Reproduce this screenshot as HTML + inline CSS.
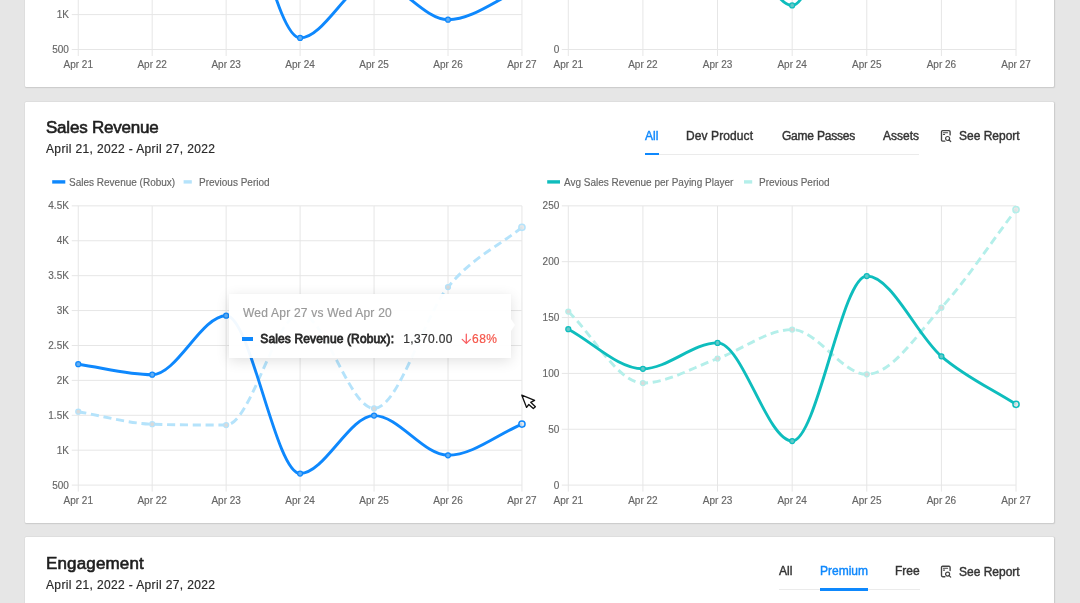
<!DOCTYPE html>
<html><head><meta charset="utf-8">
<style>
html,body{margin:0;padding:0;}
body{width:1080px;height:603px;overflow:hidden;background:#e6e6e6;position:relative;font-family:"Liberation Sans",sans-serif;}
.card{position:absolute;left:25px;width:1029.3px;height:421.0px;background:#fff;box-shadow:0 0 1.6px rgba(0,0,0,0.09), 0.7px 0.9px 1.3px rgba(0,0,0,0.11);border-radius:1.2px;}
.title{position:absolute;font-size:17px;font-weight:normal;color:#1e1e1e;-webkit-text-stroke:0.6px #1e1e1e;letter-spacing:-0.55px;white-space:nowrap;line-height:20px;}
.date{position:absolute;font-size:12px;color:#2a2a2a;-webkit-text-stroke:0.2px #2a2a2a;letter-spacing:0.36px;white-space:nowrap;line-height:14px;}
.tab{position:absolute;font-size:12px;color:#333;white-space:nowrap;line-height:14px;-webkit-text-stroke:0.4px #333;}
.tab.act{color:#0e88fd;-webkit-text-stroke:0.4px #0e88fd;}
.leg{position:absolute;font-size:10px;color:#666;-webkit-text-stroke:0.15px #666;white-space:nowrap;line-height:12px;}
.title,.date,.tab,.leg,#tip,svg.main{will-change:transform;}
svg text.ax{font-family:"Liberation Sans",sans-serif;font-size:10px;fill:#666;stroke:#666;stroke-width:0.15px;}
#tip{position:absolute;left:229.4px;top:294.0px;width:281.85px;height:64.2px;background:rgba(255,255,255,0.95);box-shadow:0 3px 14px rgba(0,0,0,0.12), 0 0 2px rgba(0,0,0,0.04);border-radius:1px;}
#tip div{position:absolute;white-space:nowrap;line-height:14px;font-size:12px;-webkit-text-stroke:0.2px currentColor;}
.tt-title{left:14.0px;top:12.4px;color:#999;letter-spacing:0.22px;}
.tt-sw{left:13.2px;top:43.2px;width:10.7px;height:3.6px;background:#0e88fd;}
.tt-name{left:31.3px;top:38.4px;color:#2a2a2a;letter-spacing:0.14px;-webkit-text-stroke:0.8px #2a2a2a !important;}
.tt-val{left:174.3px;top:38.4px;color:#333;letter-spacing:0.33px;}
.tt-pct{left:243.0px;top:38.4px;color:#f5564a;letter-spacing:0.5px;}
.tt-arrow{left:281.85px;top:25.3px;width:0;height:0;border-top:6.6px solid transparent;border-bottom:6.6px solid transparent;border-left:4.6px solid rgba(255,255,255,0.97);}
</style></head><body>
<div class="card" style="top:-334.10px"></div>
<div class="card" style="top:101.50px"></div>
<div class="card" style="top:537.10px"></div>
<svg class="main" style="position:absolute;left:0;top:0" width="1080" height="603">
<line x1="71.75" y1="-229.75" x2="521.95" y2="-229.75" stroke="#e6e6e6" stroke-width="1"/>
<text x="68.9" y="-226.15" text-anchor="end" class="ax">4.5K</text>
<line x1="71.75" y1="-194.84" x2="521.95" y2="-194.84" stroke="#e6e6e6" stroke-width="1"/>
<text x="68.9" y="-191.24" text-anchor="end" class="ax">4K</text>
<line x1="71.75" y1="-159.94" x2="521.95" y2="-159.94" stroke="#e6e6e6" stroke-width="1"/>
<text x="68.9" y="-156.34" text-anchor="end" class="ax">3.5K</text>
<line x1="71.75" y1="-125.03" x2="521.95" y2="-125.03" stroke="#e6e6e6" stroke-width="1"/>
<text x="68.9" y="-121.43" text-anchor="end" class="ax">3K</text>
<line x1="71.75" y1="-90.12" x2="521.95" y2="-90.12" stroke="#e6e6e6" stroke-width="1"/>
<text x="68.9" y="-86.53" text-anchor="end" class="ax">2.5K</text>
<line x1="71.75" y1="-55.22" x2="521.95" y2="-55.22" stroke="#e6e6e6" stroke-width="1"/>
<text x="68.9" y="-51.62" text-anchor="end" class="ax">2K</text>
<line x1="71.75" y1="-20.31" x2="521.95" y2="-20.31" stroke="#e6e6e6" stroke-width="1"/>
<text x="68.9" y="-16.71" text-anchor="end" class="ax">1.5K</text>
<line x1="71.75" y1="14.59" x2="521.95" y2="14.59" stroke="#e6e6e6" stroke-width="1"/>
<text x="68.9" y="18.19" text-anchor="end" class="ax">1K</text>
<line x1="71.75" y1="49.50" x2="521.95" y2="49.50" stroke="#e6e6e6" stroke-width="1"/>
<text x="68.9" y="53.10" text-anchor="end" class="ax">500</text>
<line x1="78.25" y1="-229.75" x2="78.25" y2="56.00" stroke="#e6e6e6" stroke-width="1"/>
<text x="78.25" y="68.20" text-anchor="middle" class="ax">Apr 21</text>
<line x1="152.20" y1="-229.75" x2="152.20" y2="56.00" stroke="#e6e6e6" stroke-width="1"/>
<text x="152.20" y="68.20" text-anchor="middle" class="ax">Apr 22</text>
<line x1="226.15" y1="-229.75" x2="226.15" y2="56.00" stroke="#e6e6e6" stroke-width="1"/>
<text x="226.15" y="68.20" text-anchor="middle" class="ax">Apr 23</text>
<line x1="300.10" y1="-229.75" x2="300.10" y2="56.00" stroke="#e6e6e6" stroke-width="1"/>
<text x="300.10" y="68.20" text-anchor="middle" class="ax">Apr 24</text>
<line x1="374.05" y1="-229.75" x2="374.05" y2="56.00" stroke="#e6e6e6" stroke-width="1"/>
<text x="374.05" y="68.20" text-anchor="middle" class="ax">Apr 25</text>
<line x1="448.00" y1="-229.75" x2="448.00" y2="56.00" stroke="#e6e6e6" stroke-width="1"/>
<text x="448.00" y="68.20" text-anchor="middle" class="ax">Apr 26</text>
<line x1="521.95" y1="-229.75" x2="521.95" y2="56.00" stroke="#e6e6e6" stroke-width="1"/>
<text x="521.95" y="68.20" text-anchor="middle" class="ax">Apr 27</text>
<line x1="561.80" y1="-229.75" x2="1016.02" y2="-229.75" stroke="#e6e6e6" stroke-width="1"/>
<text x="559.3" y="-226.15" text-anchor="end" class="ax">250</text>
<line x1="561.80" y1="-173.90" x2="1016.02" y2="-173.90" stroke="#e6e6e6" stroke-width="1"/>
<text x="559.3" y="-170.30" text-anchor="end" class="ax">200</text>
<line x1="561.80" y1="-118.05" x2="1016.02" y2="-118.05" stroke="#e6e6e6" stroke-width="1"/>
<text x="559.3" y="-114.45" text-anchor="end" class="ax">150</text>
<line x1="561.80" y1="-62.20" x2="1016.02" y2="-62.20" stroke="#e6e6e6" stroke-width="1"/>
<text x="559.3" y="-58.60" text-anchor="end" class="ax">100</text>
<line x1="561.80" y1="-6.35" x2="1016.02" y2="-6.35" stroke="#e6e6e6" stroke-width="1"/>
<text x="559.3" y="-2.75" text-anchor="end" class="ax">50</text>
<line x1="561.80" y1="49.50" x2="1016.02" y2="49.50" stroke="#e6e6e6" stroke-width="1"/>
<text x="559.3" y="53.10" text-anchor="end" class="ax">0</text>
<line x1="568.30" y1="-229.75" x2="568.30" y2="56.00" stroke="#e6e6e6" stroke-width="1"/>
<text x="568.30" y="68.20" text-anchor="middle" class="ax">Apr 21</text>
<line x1="642.92" y1="-229.75" x2="642.92" y2="56.00" stroke="#e6e6e6" stroke-width="1"/>
<text x="642.92" y="68.20" text-anchor="middle" class="ax">Apr 22</text>
<line x1="717.54" y1="-229.75" x2="717.54" y2="56.00" stroke="#e6e6e6" stroke-width="1"/>
<text x="717.54" y="68.20" text-anchor="middle" class="ax">Apr 23</text>
<line x1="792.16" y1="-229.75" x2="792.16" y2="56.00" stroke="#e6e6e6" stroke-width="1"/>
<text x="792.16" y="68.20" text-anchor="middle" class="ax">Apr 24</text>
<line x1="866.78" y1="-229.75" x2="866.78" y2="56.00" stroke="#e6e6e6" stroke-width="1"/>
<text x="866.78" y="68.20" text-anchor="middle" class="ax">Apr 25</text>
<line x1="941.40" y1="-229.75" x2="941.40" y2="56.00" stroke="#e6e6e6" stroke-width="1"/>
<text x="941.40" y="68.20" text-anchor="middle" class="ax">Apr 26</text>
<line x1="1016.02" y1="-229.75" x2="1016.02" y2="56.00" stroke="#e6e6e6" stroke-width="1"/>
<text x="1016.02" y="68.20" text-anchor="middle" class="ax">Apr 27</text>
<path d="M78.25,-23.90 C102.90,-19.73 127.55,-12.20 152.20,-11.40 C176.85,-10.60 201.50,-10.60 226.15,-10.60 C250.80,-10.60 275.45,-121.60 300.10,-121.60 C324.75,-121.60 349.40,-27.20 374.05,-27.20 C398.70,-27.20 423.35,-118.32 448.00,-148.50 C472.65,-178.68 497.30,-188.37 521.95,-208.30" fill="none" stroke="#b5e3fb" stroke-width="2.9" stroke-dasharray="8.14 4.7" stroke-dashoffset="-0.05" stroke-linejoin="round"/>
<circle cx="78.25" cy="-23.90" r="2.5" fill="#d9d9d9" stroke="#b5e3fb" stroke-width="1.25"/>
<circle cx="152.20" cy="-11.40" r="2.5" fill="#d9d9d9" stroke="#b5e3fb" stroke-width="1.25"/>
<circle cx="226.15" cy="-10.60" r="2.5" fill="#d9d9d9" stroke="#b5e3fb" stroke-width="1.25"/>
<circle cx="300.10" cy="-121.60" r="2.5" fill="#d9d9d9" stroke="#b5e3fb" stroke-width="1.25"/>
<circle cx="374.05" cy="-27.20" r="2.5" fill="#d9d9d9" stroke="#b5e3fb" stroke-width="1.25"/>
<circle cx="448.00" cy="-148.50" r="2.5" fill="#d9d9d9" stroke="#b5e3fb" stroke-width="1.25"/>
<circle cx="521.95" cy="-208.30" r="2.5" fill="#d9d9d9" stroke="#b5e3fb" stroke-width="1.25"/>
<path d="M78.25,-71.40 C102.90,-67.90 127.55,-60.90 152.20,-60.90 C176.85,-60.90 201.50,-119.90 226.15,-119.90 C250.80,-119.90 275.45,37.90 300.10,37.90 C324.75,37.90 349.40,-20.00 374.05,-20.00 C398.70,-20.00 423.35,19.70 448.00,19.70 C472.65,19.70 497.30,-1.10 521.95,-11.50" fill="none" stroke="#0e88fd" stroke-width="2.9" stroke-linejoin="round"/>
<circle cx="78.25" cy="-71.40" r="2.5" fill="#62aef3" stroke="#0e88fd" stroke-width="1.25"/>
<circle cx="152.20" cy="-60.90" r="2.5" fill="#62aef3" stroke="#0e88fd" stroke-width="1.25"/>
<circle cx="226.15" cy="-119.90" r="2.5" fill="#62aef3" stroke="#0e88fd" stroke-width="1.25"/>
<circle cx="300.10" cy="37.90" r="2.5" fill="#62aef3" stroke="#0e88fd" stroke-width="1.25"/>
<circle cx="374.05" cy="-20.00" r="2.5" fill="#62aef3" stroke="#0e88fd" stroke-width="1.25"/>
<circle cx="448.00" cy="19.70" r="2.5" fill="#62aef3" stroke="#0e88fd" stroke-width="1.25"/>
<circle cx="521.95" cy="-11.50" r="2.5" fill="#62aef3" stroke="#0e88fd" stroke-width="1.25"/>
<path d="M568.30,-124.10 C593.17,-100.27 618.05,-52.60 642.92,-52.60 C667.79,-52.60 692.67,-68.10 717.54,-77.00 C742.41,-85.90 767.29,-106.00 792.16,-106.00 C817.03,-106.00 841.91,-61.30 866.78,-61.30 C891.65,-61.30 916.53,-100.45 941.40,-127.90 C966.27,-155.35 991.15,-193.30 1016.02,-226.00" fill="none" stroke="#b4efea" stroke-width="2.9" stroke-dasharray="8.1 4.68" stroke-dashoffset="-0.3" stroke-linejoin="round"/>
<circle cx="568.30" cy="-124.10" r="2.5" fill="#d9d9d9" stroke="#b4efea" stroke-width="1.25"/>
<circle cx="642.92" cy="-52.60" r="2.5" fill="#d9d9d9" stroke="#b4efea" stroke-width="1.25"/>
<circle cx="717.54" cy="-77.00" r="2.5" fill="#d9d9d9" stroke="#b4efea" stroke-width="1.25"/>
<circle cx="792.16" cy="-106.00" r="2.5" fill="#d9d9d9" stroke="#b4efea" stroke-width="1.25"/>
<circle cx="866.78" cy="-61.30" r="2.5" fill="#d9d9d9" stroke="#b4efea" stroke-width="1.25"/>
<circle cx="941.40" cy="-127.90" r="2.5" fill="#d9d9d9" stroke="#b4efea" stroke-width="1.25"/>
<circle cx="1016.02" cy="-226.00" r="2.5" fill="#d9d9d9" stroke="#b4efea" stroke-width="1.25"/>
<path d="M568.30,-106.40 C593.17,-93.20 618.05,-66.80 642.92,-66.80 C667.79,-66.80 692.67,-92.70 717.54,-92.70 C742.41,-92.70 767.29,5.40 792.16,5.40 C817.03,5.40 841.91,-159.60 866.78,-159.60 C891.65,-159.60 916.53,-100.68 941.40,-79.30 C966.27,-57.92 991.15,-47.30 1016.02,-31.30" fill="none" stroke="#0ebdbd" stroke-width="2.9" stroke-linejoin="round"/>
<circle cx="568.30" cy="-106.40" r="2.5" fill="#62c8c8" stroke="#0ebdbd" stroke-width="1.25"/>
<circle cx="642.92" cy="-66.80" r="2.5" fill="#62c8c8" stroke="#0ebdbd" stroke-width="1.25"/>
<circle cx="717.54" cy="-92.70" r="2.5" fill="#62c8c8" stroke="#0ebdbd" stroke-width="1.25"/>
<circle cx="792.16" cy="5.40" r="2.5" fill="#62c8c8" stroke="#0ebdbd" stroke-width="1.25"/>
<circle cx="866.78" cy="-159.60" r="2.5" fill="#62c8c8" stroke="#0ebdbd" stroke-width="1.25"/>
<circle cx="941.40" cy="-79.30" r="2.5" fill="#62c8c8" stroke="#0ebdbd" stroke-width="1.25"/>
<circle cx="1016.02" cy="-31.30" r="2.5" fill="#62c8c8" stroke="#0ebdbd" stroke-width="1.25"/>
<line x1="71.75" y1="205.85" x2="521.95" y2="205.85" stroke="#e6e6e6" stroke-width="1"/>
<text x="68.9" y="209.45" text-anchor="end" class="ax">4.5K</text>
<line x1="71.75" y1="240.76" x2="521.95" y2="240.76" stroke="#e6e6e6" stroke-width="1"/>
<text x="68.9" y="244.36" text-anchor="end" class="ax">4K</text>
<line x1="71.75" y1="275.66" x2="521.95" y2="275.66" stroke="#e6e6e6" stroke-width="1"/>
<text x="68.9" y="279.26" text-anchor="end" class="ax">3.5K</text>
<line x1="71.75" y1="310.57" x2="521.95" y2="310.57" stroke="#e6e6e6" stroke-width="1"/>
<text x="68.9" y="314.17" text-anchor="end" class="ax">3K</text>
<line x1="71.75" y1="345.48" x2="521.95" y2="345.48" stroke="#e6e6e6" stroke-width="1"/>
<text x="68.9" y="349.08" text-anchor="end" class="ax">2.5K</text>
<line x1="71.75" y1="380.38" x2="521.95" y2="380.38" stroke="#e6e6e6" stroke-width="1"/>
<text x="68.9" y="383.98" text-anchor="end" class="ax">2K</text>
<line x1="71.75" y1="415.29" x2="521.95" y2="415.29" stroke="#e6e6e6" stroke-width="1"/>
<text x="68.9" y="418.89" text-anchor="end" class="ax">1.5K</text>
<line x1="71.75" y1="450.19" x2="521.95" y2="450.19" stroke="#e6e6e6" stroke-width="1"/>
<text x="68.9" y="453.79" text-anchor="end" class="ax">1K</text>
<line x1="71.75" y1="485.10" x2="521.95" y2="485.10" stroke="#e6e6e6" stroke-width="1"/>
<text x="68.9" y="488.70" text-anchor="end" class="ax">500</text>
<line x1="78.25" y1="205.85" x2="78.25" y2="491.60" stroke="#e6e6e6" stroke-width="1"/>
<text x="78.25" y="503.80" text-anchor="middle" class="ax">Apr 21</text>
<line x1="152.20" y1="205.85" x2="152.20" y2="491.60" stroke="#e6e6e6" stroke-width="1"/>
<text x="152.20" y="503.80" text-anchor="middle" class="ax">Apr 22</text>
<line x1="226.15" y1="205.85" x2="226.15" y2="491.60" stroke="#e6e6e6" stroke-width="1"/>
<text x="226.15" y="503.80" text-anchor="middle" class="ax">Apr 23</text>
<line x1="300.10" y1="205.85" x2="300.10" y2="491.60" stroke="#e6e6e6" stroke-width="1"/>
<text x="300.10" y="503.80" text-anchor="middle" class="ax">Apr 24</text>
<line x1="374.05" y1="205.85" x2="374.05" y2="491.60" stroke="#e6e6e6" stroke-width="1"/>
<text x="374.05" y="503.80" text-anchor="middle" class="ax">Apr 25</text>
<line x1="448.00" y1="205.85" x2="448.00" y2="491.60" stroke="#e6e6e6" stroke-width="1"/>
<text x="448.00" y="503.80" text-anchor="middle" class="ax">Apr 26</text>
<line x1="521.95" y1="205.85" x2="521.95" y2="491.60" stroke="#e6e6e6" stroke-width="1"/>
<text x="521.95" y="503.80" text-anchor="middle" class="ax">Apr 27</text>
<line x1="561.80" y1="205.85" x2="1016.02" y2="205.85" stroke="#e6e6e6" stroke-width="1"/>
<text x="559.3" y="209.45" text-anchor="end" class="ax">250</text>
<line x1="561.80" y1="261.70" x2="1016.02" y2="261.70" stroke="#e6e6e6" stroke-width="1"/>
<text x="559.3" y="265.30" text-anchor="end" class="ax">200</text>
<line x1="561.80" y1="317.55" x2="1016.02" y2="317.55" stroke="#e6e6e6" stroke-width="1"/>
<text x="559.3" y="321.15" text-anchor="end" class="ax">150</text>
<line x1="561.80" y1="373.40" x2="1016.02" y2="373.40" stroke="#e6e6e6" stroke-width="1"/>
<text x="559.3" y="377.00" text-anchor="end" class="ax">100</text>
<line x1="561.80" y1="429.25" x2="1016.02" y2="429.25" stroke="#e6e6e6" stroke-width="1"/>
<text x="559.3" y="432.85" text-anchor="end" class="ax">50</text>
<line x1="561.80" y1="485.10" x2="1016.02" y2="485.10" stroke="#e6e6e6" stroke-width="1"/>
<text x="559.3" y="488.70" text-anchor="end" class="ax">0</text>
<line x1="568.30" y1="205.85" x2="568.30" y2="491.60" stroke="#e6e6e6" stroke-width="1"/>
<text x="568.30" y="503.80" text-anchor="middle" class="ax">Apr 21</text>
<line x1="642.92" y1="205.85" x2="642.92" y2="491.60" stroke="#e6e6e6" stroke-width="1"/>
<text x="642.92" y="503.80" text-anchor="middle" class="ax">Apr 22</text>
<line x1="717.54" y1="205.85" x2="717.54" y2="491.60" stroke="#e6e6e6" stroke-width="1"/>
<text x="717.54" y="503.80" text-anchor="middle" class="ax">Apr 23</text>
<line x1="792.16" y1="205.85" x2="792.16" y2="491.60" stroke="#e6e6e6" stroke-width="1"/>
<text x="792.16" y="503.80" text-anchor="middle" class="ax">Apr 24</text>
<line x1="866.78" y1="205.85" x2="866.78" y2="491.60" stroke="#e6e6e6" stroke-width="1"/>
<text x="866.78" y="503.80" text-anchor="middle" class="ax">Apr 25</text>
<line x1="941.40" y1="205.85" x2="941.40" y2="491.60" stroke="#e6e6e6" stroke-width="1"/>
<text x="941.40" y="503.80" text-anchor="middle" class="ax">Apr 26</text>
<line x1="1016.02" y1="205.85" x2="1016.02" y2="491.60" stroke="#e6e6e6" stroke-width="1"/>
<text x="1016.02" y="503.80" text-anchor="middle" class="ax">Apr 27</text>
<path d="M78.25,411.70 C102.90,415.87 127.55,423.40 152.20,424.20 C176.85,425.00 201.50,425.00 226.15,425.00 C250.80,425.00 275.45,314.00 300.10,314.00 C324.75,314.00 349.40,408.40 374.05,408.40 C398.70,408.40 423.35,317.28 448.00,287.10 C472.65,256.92 497.30,247.23 521.95,227.30" fill="none" stroke="#b5e3fb" stroke-width="2.9" stroke-dasharray="8.14 4.7" stroke-dashoffset="-0.05" stroke-linejoin="round"/>
<circle cx="78.25" cy="411.70" r="2.5" fill="#d9d9d9" stroke="#b5e3fb" stroke-width="1.25"/>
<circle cx="152.20" cy="424.20" r="2.5" fill="#d9d9d9" stroke="#b5e3fb" stroke-width="1.25"/>
<circle cx="226.15" cy="425.00" r="2.5" fill="#d9d9d9" stroke="#b5e3fb" stroke-width="1.25"/>
<circle cx="300.10" cy="314.00" r="2.5" fill="#d9d9d9" stroke="#b5e3fb" stroke-width="1.25"/>
<circle cx="374.05" cy="408.40" r="2.5" fill="#d9d9d9" stroke="#b5e3fb" stroke-width="1.25"/>
<circle cx="448.00" cy="287.10" r="2.5" fill="#d9d9d9" stroke="#b5e3fb" stroke-width="1.25"/>
<circle cx="521.95" cy="227.30" r="3.1" fill="rgba(228,228,228,0.8)" stroke="#b5e3fb" stroke-width="1.5"/>
<path d="M78.25,364.20 C102.90,367.70 127.55,374.70 152.20,374.70 C176.85,374.70 201.50,315.70 226.15,315.70 C250.80,315.70 275.45,473.50 300.10,473.50 C324.75,473.50 349.40,415.60 374.05,415.60 C398.70,415.60 423.35,455.30 448.00,455.30 C472.65,455.30 497.30,434.50 521.95,424.10" fill="none" stroke="#0e88fd" stroke-width="2.9" stroke-linejoin="round"/>
<circle cx="78.25" cy="364.20" r="2.5" fill="#62aef3" stroke="#0e88fd" stroke-width="1.25"/>
<circle cx="152.20" cy="374.70" r="2.5" fill="#62aef3" stroke="#0e88fd" stroke-width="1.25"/>
<circle cx="226.15" cy="315.70" r="2.5" fill="#62aef3" stroke="#0e88fd" stroke-width="1.25"/>
<circle cx="300.10" cy="473.50" r="2.5" fill="#62aef3" stroke="#0e88fd" stroke-width="1.25"/>
<circle cx="374.05" cy="415.60" r="2.5" fill="#62aef3" stroke="#0e88fd" stroke-width="1.25"/>
<circle cx="448.00" cy="455.30" r="2.5" fill="#62aef3" stroke="#0e88fd" stroke-width="1.25"/>
<circle cx="521.95" cy="424.10" r="3.1" fill="rgba(228,228,228,0.8)" stroke="#0e88fd" stroke-width="1.5"/>
<path d="M568.30,311.50 C593.17,335.33 618.05,383.00 642.92,383.00 C667.79,383.00 692.67,367.50 717.54,358.60 C742.41,349.70 767.29,329.60 792.16,329.60 C817.03,329.60 841.91,374.30 866.78,374.30 C891.65,374.30 916.53,335.15 941.40,307.70 C966.27,280.25 991.15,242.30 1016.02,209.60" fill="none" stroke="#b4efea" stroke-width="2.9" stroke-dasharray="8.1 4.68" stroke-dashoffset="-0.3" stroke-linejoin="round"/>
<circle cx="568.30" cy="311.50" r="2.5" fill="#d9d9d9" stroke="#b4efea" stroke-width="1.25"/>
<circle cx="642.92" cy="383.00" r="2.5" fill="#d9d9d9" stroke="#b4efea" stroke-width="1.25"/>
<circle cx="717.54" cy="358.60" r="2.5" fill="#d9d9d9" stroke="#b4efea" stroke-width="1.25"/>
<circle cx="792.16" cy="329.60" r="2.5" fill="#d9d9d9" stroke="#b4efea" stroke-width="1.25"/>
<circle cx="866.78" cy="374.30" r="2.5" fill="#d9d9d9" stroke="#b4efea" stroke-width="1.25"/>
<circle cx="941.40" cy="307.70" r="2.5" fill="#d9d9d9" stroke="#b4efea" stroke-width="1.25"/>
<circle cx="1016.02" cy="209.60" r="3.1" fill="rgba(228,228,228,0.8)" stroke="#b4efea" stroke-width="1.5"/>
<path d="M568.30,329.20 C593.17,342.40 618.05,368.80 642.92,368.80 C667.79,368.80 692.67,342.90 717.54,342.90 C742.41,342.90 767.29,441.00 792.16,441.00 C817.03,441.00 841.91,276.00 866.78,276.00 C891.65,276.00 916.53,334.92 941.40,356.30 C966.27,377.68 991.15,388.30 1016.02,404.30" fill="none" stroke="#0ebdbd" stroke-width="2.9" stroke-linejoin="round"/>
<circle cx="568.30" cy="329.20" r="2.5" fill="#62c8c8" stroke="#0ebdbd" stroke-width="1.25"/>
<circle cx="642.92" cy="368.80" r="2.5" fill="#62c8c8" stroke="#0ebdbd" stroke-width="1.25"/>
<circle cx="717.54" cy="342.90" r="2.5" fill="#62c8c8" stroke="#0ebdbd" stroke-width="1.25"/>
<circle cx="792.16" cy="441.00" r="2.5" fill="#62c8c8" stroke="#0ebdbd" stroke-width="1.25"/>
<circle cx="866.78" cy="276.00" r="2.5" fill="#62c8c8" stroke="#0ebdbd" stroke-width="1.25"/>
<circle cx="941.40" cy="356.30" r="2.5" fill="#62c8c8" stroke="#0ebdbd" stroke-width="1.25"/>
<circle cx="1016.02" cy="404.30" r="3.1" fill="rgba(228,228,228,0.8)" stroke="#0ebdbd" stroke-width="1.5"/>
<line x1="52.2" y1="181.9" x2="65.3" y2="181.9" stroke="#0e88fd" stroke-width="3.4"/>
<line x1="183.6" y1="181.9" x2="191.8" y2="181.9" stroke="#b5e3fb" stroke-width="3.4"/>
<line x1="547.2" y1="181.9" x2="560.0" y2="181.9" stroke="#0ebdbd" stroke-width="3.4"/>
<line x1="744" y1="181.9" x2="752.2" y2="181.9" stroke="#b4efea" stroke-width="3.4"/>
<g transform="translate(940.8,129.9)" fill="none" stroke="#444" stroke-width="1.35" stroke-linejoin="round" stroke-linecap="round">
<path d="M4.1,11.2 H1.8 Q0.7,11.2 0.7,10.1 V1.8 Q0.7,0.7 1.8,0.7 H8.2 Q9.3,0.7 9.3,1.8 V5.0"/>
<path d="M2.6,2.8 H6.8" stroke-width="1.1"/>
<path d="M2.6,4.6 H3.8" stroke-width="1.1"/>
<circle cx="6.8" cy="8.6" r="2.0" stroke-width="1.2"/>
<path d="M8.3,10.1 L9.9,11.6" stroke-width="1.2"/>
</g>
<g transform="translate(940.8,565.5)" fill="none" stroke="#444" stroke-width="1.35" stroke-linejoin="round" stroke-linecap="round">
<path d="M4.1,11.2 H1.8 Q0.7,11.2 0.7,10.1 V1.8 Q0.7,0.7 1.8,0.7 H8.2 Q9.3,0.7 9.3,1.8 V5.0"/>
<path d="M2.6,2.8 H6.8" stroke-width="1.1"/>
<path d="M2.6,4.6 H3.8" stroke-width="1.1"/>
<circle cx="6.8" cy="8.6" r="2.0" stroke-width="1.2"/>
<path d="M8.3,10.1 L9.9,11.6" stroke-width="1.2"/>
</g>
</svg>
<div class="title" style="left:45.8px;top:118.30px;letter-spacing:-0.22px">Sales Revenue</div>
<div class="date" style="left:45.8px;top:142.00px">April 21, 2022 - April 27, 2022</div>
<div class="tab act" style="left:645.4px;top:128.80px;letter-spacing:0px">All</div>
<div class="tab" style="left:685.6px;top:128.80px;letter-spacing:0.1px">Dev Product</div>
<div class="tab" style="left:782.0px;top:128.80px;letter-spacing:-0.22px">Game Passes</div>
<div class="tab" style="left:883.3px;top:128.80px;letter-spacing:0px">Assets</div>
<div style="position:absolute;left:645.4px;top:153.80px;width:274.1px;height:1px;background:#ebebeb"></div>
<div style="position:absolute;left:645.4px;top:152.80px;width:13.3px;height:2.2px;background:#0e88fd"></div>
<div class="tab" style="left:959.3px;top:128.90px">See Report</div>
<div class="leg" style="left:69.2px;top:177.00px">Sales Revenue (Robux)</div>
<div class="leg" style="left:199.4px;top:177.00px">Previous Period</div>
<div class="leg" style="left:563.6px;top:177.00px">Avg Sales Revenue per Paying Player</div>
<div class="leg" style="left:758.9px;top:177.00px">Previous Period</div>
<div class="title" style="left:45.8px;top:553.90px;letter-spacing:0.15px">Engagement</div>
<div class="date" style="left:45.8px;top:577.60px">April 21, 2022 - April 27, 2022</div>
<div class="tab" style="left:779.4px;top:564.40px;letter-spacing:0px">All</div>
<div class="tab act" style="left:820.2px;top:564.40px;letter-spacing:0px">Premium</div>
<div class="tab" style="left:895.2px;top:564.40px;letter-spacing:0px">Free</div>
<div style="position:absolute;left:779.4px;top:589.40px;width:140.6px;height:1px;background:#ebebeb"></div>
<div style="position:absolute;left:820.2px;top:588.40px;width:48.2px;height:2.2px;background:#0e88fd"></div>
<div class="tab" style="left:959.3px;top:564.50px">See Report</div>

<div id="tip">
  <div class="tt-title">Wed Apr 27 vs Wed Apr 20</div>
  <div class="tt-sw"></div>
  <div class="tt-name">Sales Revenue (Robux):</div>
  <div class="tt-val">1,370.00</div>
  <div class="tt-pct">68%</div>
  <div class="tt-arrow"></div>
</div>
<svg style="position:absolute;left:0;top:0" width="1080" height="603">
<path d="M466.3,334.2 V343.2 M462.2,339.4 L466.3,343.4 L470.4,339.4" fill="none" stroke="#f95b5f" stroke-width="1.25" stroke-linecap="round" stroke-linejoin="round"/>
<path d="M521.8,395.2 L534.6,400.3 L530.7,402.3 L535.4,406.7 L533.3,408.6 L528.8,404.5 L526.6,407.4 Z" fill="#fff" stroke="#111" stroke-width="1.3" stroke-linejoin="round"/>
</svg>
</body></html>
